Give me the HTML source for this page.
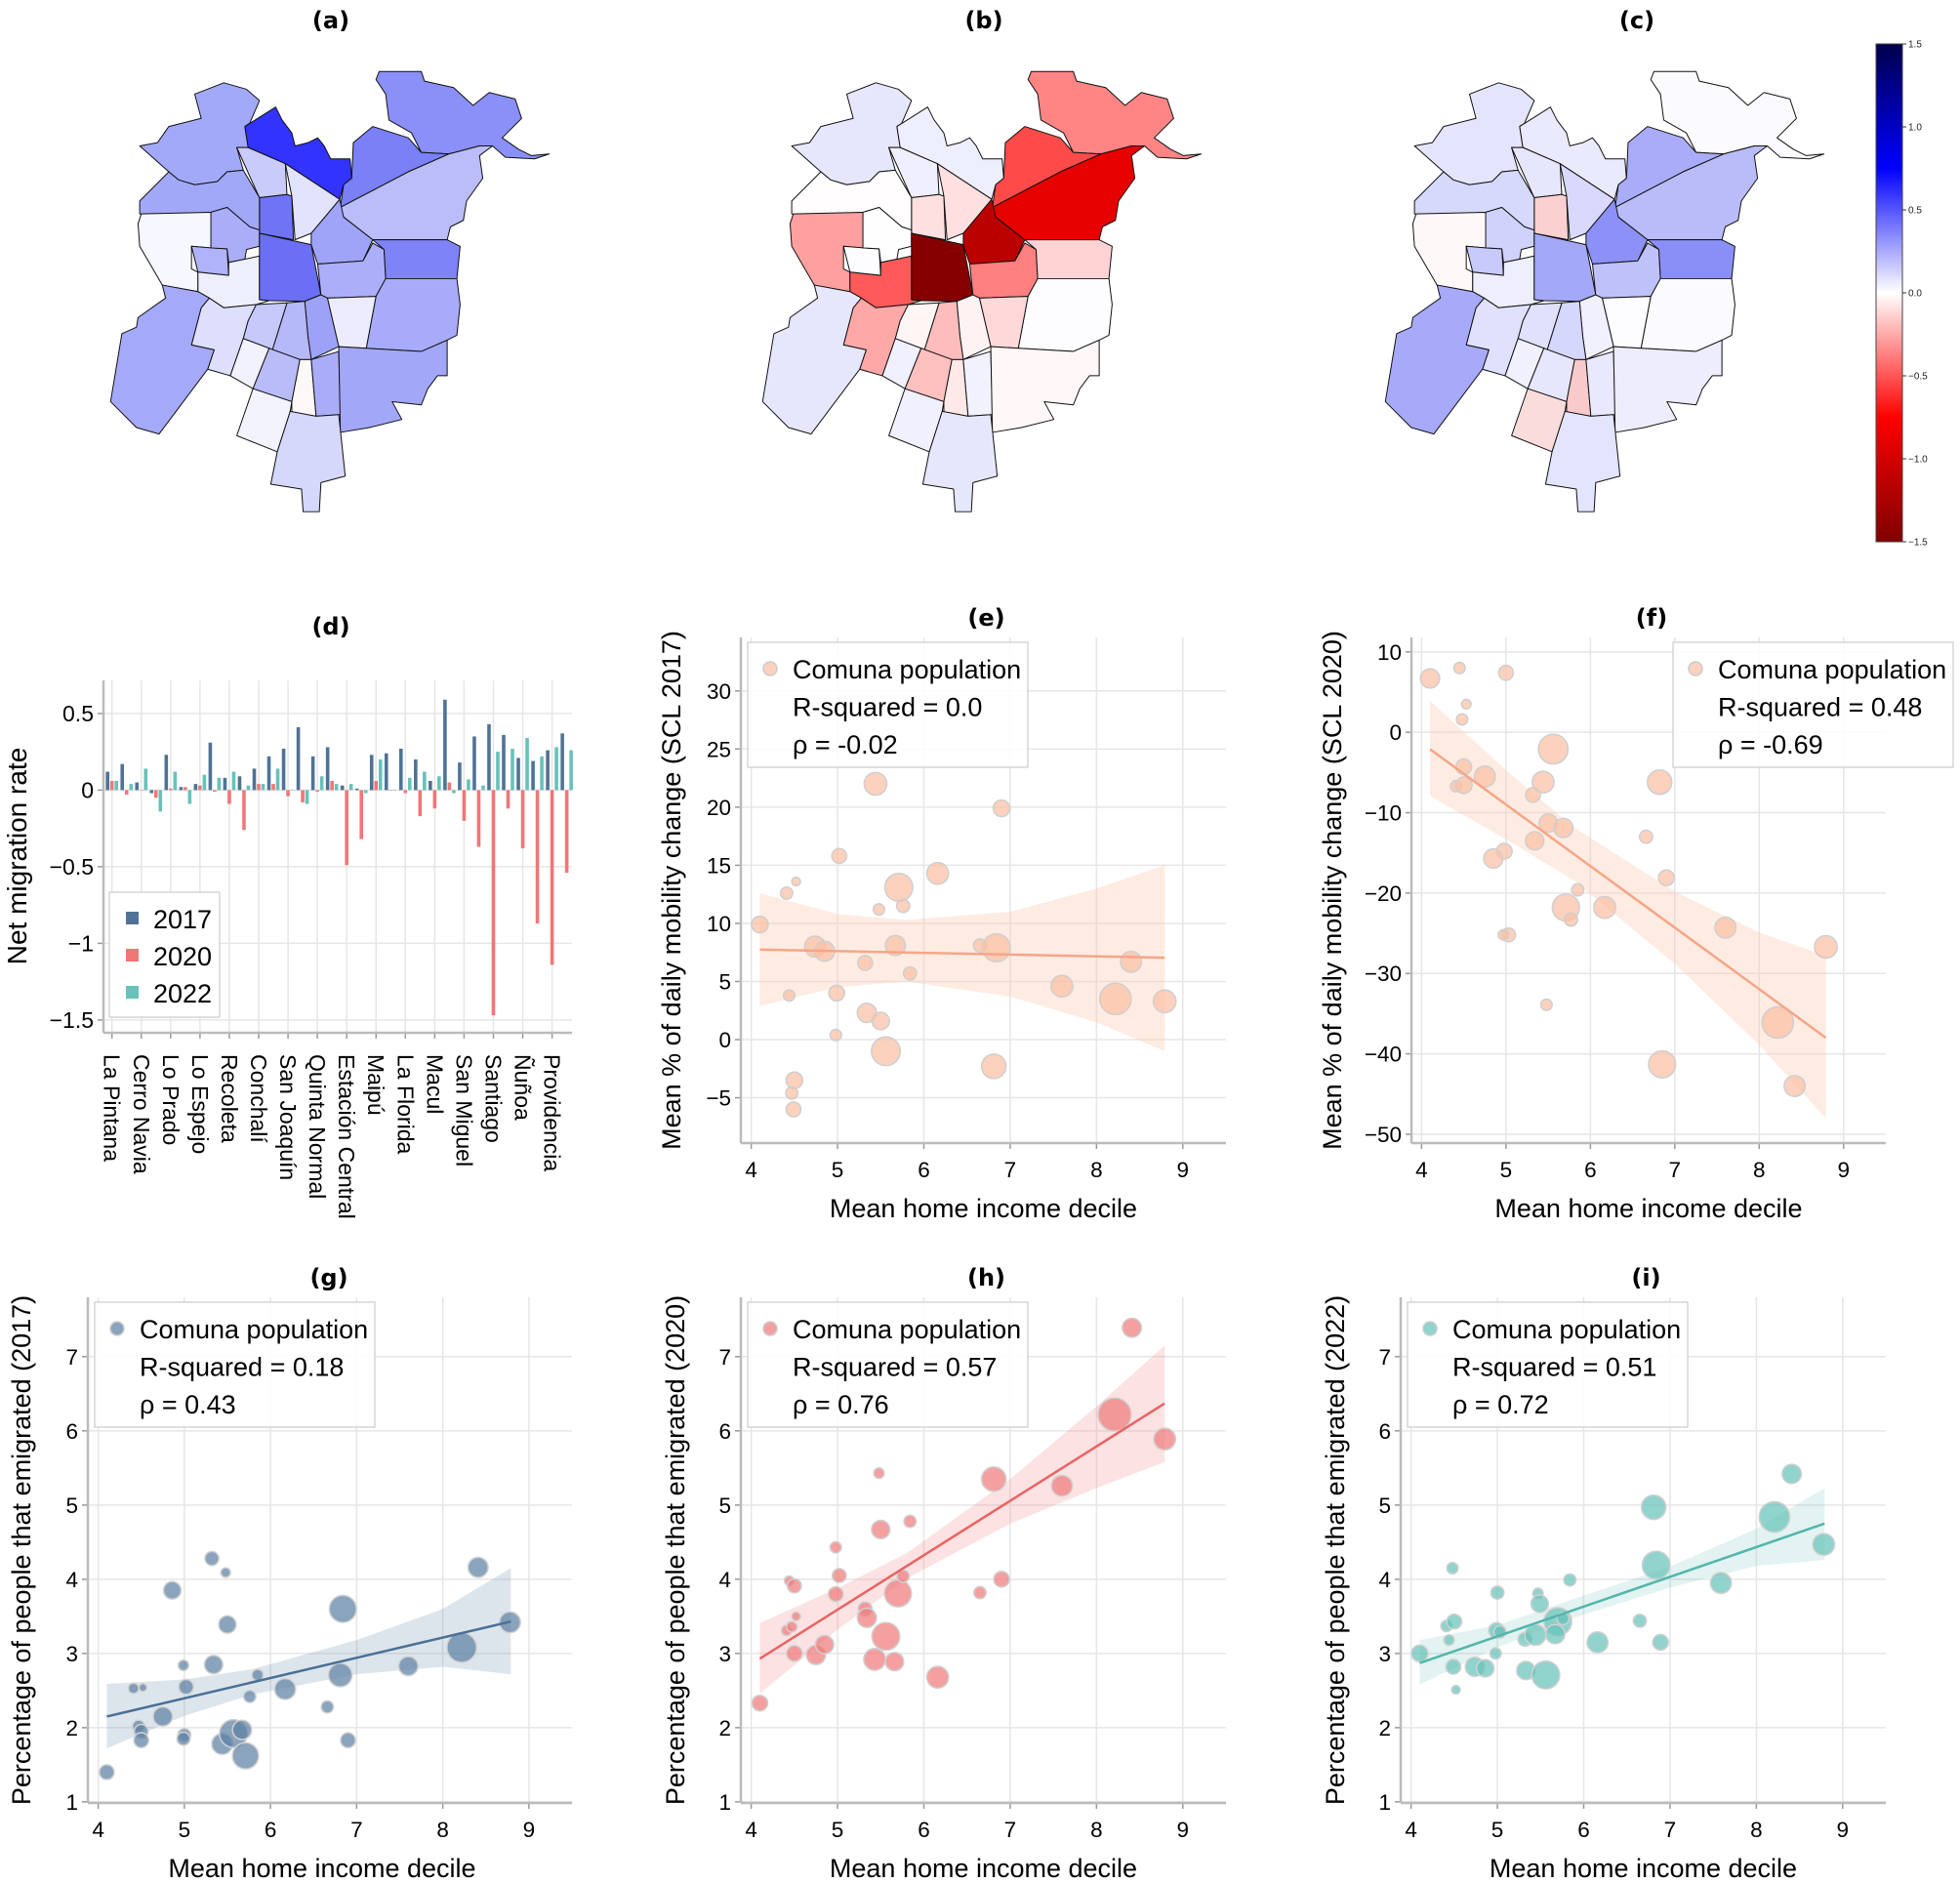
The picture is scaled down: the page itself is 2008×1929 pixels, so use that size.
<!DOCTYPE html>
<html><head><meta charset="utf-8">
<style>
html,body{margin:0;padding:0;background:#fff;}
svg{display:block;font-family:"Liberation Sans","DejaVu Sans",sans-serif;}
.ttl{font-family:"DejaVu Sans","Liberation Sans",sans-serif;font-weight:bold;}
</style></head>
<body>
<svg id="fig" width="2008" height="1929" viewBox="0 0 2008 1929" xmlns="http://www.w3.org/2000/svg">
<defs>
<linearGradient id="cbgrad" x1="0" y1="0" x2="0" y2="1">
<stop offset="0" stop-color="#00004d"/><stop offset="0.25" stop-color="#0000ff"/><stop offset="0.5" stop-color="#ffffff"/><stop offset="0.75" stop-color="#ff0000"/><stop offset="1" stop-color="#800000"/>
</linearGradient>
</defs>
<g id="maps"></g>
<g id="charts"></g>
</svg>
<script>
// ---------- bar chart (d) data ----------
const comunaLabels = ["La Pintana","Cerro Navia","Lo Prado","Lo Espejo","Recoleta","Conchalí","San Joaquín","Quinta Normal","Estación Central","Maipú","La Florida","Macul","San Miguel","Santiago","Ñuñoa","Providencia"];
const rate2017 = [0.12,0.17,0.05,-0.02,0.23,0.02,0.04,0.31,0.08,0.09,0.14,0.22,0.27,0.41,0.22,0.28,0.03,0.01,0.23,0.24,0.27,0.20,0.06,0.59,0.18,0.35,0.43,0.36,0.21,0.19,0.26,0.37];
const rate2020 = [0.06,-0.03,0.0,-0.05,0.01,0.02,0.03,-0.01,-0.09,-0.26,0.04,0.04,-0.04,-0.08,-0.01,0.06,-0.49,-0.32,0.06,0.0,-0.02,-0.17,-0.12,0.05,-0.20,-0.37,-1.47,-0.12,-0.38,-0.87,-1.14,-0.54];
const rate2022 = [0.06,0.04,0.14,-0.14,0.12,-0.09,0.10,0.08,0.12,0.03,0.04,0.14,0.0,-0.09,0.09,0.04,0.04,-0.02,0.20,0.0,0.08,0.12,0.09,-0.02,0.07,0.03,0.25,0.27,0.34,0.22,0.28,0.26];
const dTicks = [0.5,0,-0.5,-1,-1.5];
const dTickLabels = ["0.5","0","\u22120.5","\u22121","\u22121.5"];

// ---------- scatter data ----------
const xE=[4.1,4.41,4.52,4.44,4.5,4.47,4.49,4.74,4.85,5.02,4.99,4.98,5.32,5.44,5.34,5.48,5.5,5.56,5.71,5.76,5.67,5.84,6.16,6.65,6.84,6.9,6.81,7.6,8.22,8.4,8.79];
const yE=[9.9,12.6,13.6,3.8,-3.5,-4.6,-6.0,8.0,7.6,15.8,4.0,0.4,6.6,22.0,2.3,11.2,1.6,-1.0,13.1,11.5,8.1,5.7,14.3,8.1,7.9,19.9,-2.3,4.6,3.5,6.7,3.3];
const popE=[19,14,10,13,19,14,17,24,23,17,18,13,17,26,22,13,20,33,32,15,23,15,25,15,32,19,28,25,36,24,26];
const bandXE=[4.1,5,5.8,7,8,8.79], bandLoE=[2.9,4.5,5.0,3.7,1.5,-1.0], bandHiE=[12.6,10.8,10.3,11.0,13.0,15.0], fitE=[7.75,7.05];

const xF=[4.1,4.45,5.0,4.53,4.48,4.5,4.41,4.5,4.75,5.56,5.44,5.32,5.5,5.68,5.34,4.98,4.85,6.66,6.82,6.9,5.85,5.71,6.17,5.77,5.03,4.97,7.6,8.79,5.48,8.22,6.85,8.42];
const yF=[6.7,8.0,7.4,3.5,1.6,-4.3,-6.7,-6.6,-5.5,-2.1,-6.2,-7.8,-11.3,-11.9,-13.5,-14.8,-15.7,-13.0,-6.2,-18.1,-19.6,-21.8,-21.8,-23.3,-25.2,-25.2,-24.3,-26.7,-33.9,-36.1,-41.3,-44.0];
const popF=[22,13,17,11,13,18,13,19,24,34,25,17,21,22,21,18,22,15,28,18,14,31,25,15,16,12,24,26,13,36,31,24];
const bandXF=[4.1,5,5.8,7,8,8.79], bandLoF=[-7.9,-13.3,-18.4,-28.8,-38.9,-48.0], bandHiF=[3.9,-4.7,-11.8,-19.8,-24.9,-27.8], fitF=[-2.1,-38.0];

const xG=[4.1,4.41,4.52,4.47,4.5,4.5,4.75,4.86,4.99,5.02,5.0,4.99,5.32,5.48,5.5,5.34,5.44,5.57,5.67,5.71,5.85,5.76,6.17,6.66,6.81,6.84,6.9,7.6,8.22,8.41,8.78];
const yG=[1.40,2.53,2.54,2.02,1.95,1.83,2.15,3.85,2.84,2.55,1.9,1.85,4.28,4.09,3.39,2.85,1.78,1.92,1.97,1.62,2.71,2.42,2.52,2.28,2.71,3.60,1.83,2.83,3.08,4.16,3.42];
const popG=[17,12,9,14,16,17,22,20,12,17,15,15,16,11,20,21,24,32,22,30,13,14,24,14,27,31,17,22,34,23,24];
const bandXG=[4.1,5,5.8,7,8,8.79], bandLoG=[1.72,2.16,2.45,2.72,2.82,2.72], bandHiG=[2.59,2.65,2.79,3.18,3.60,4.15], fitG=[2.15,3.43];

const xH=[4.1,4.41,4.44,4.5,4.47,4.52,4.5,4.75,4.85,4.98,5.02,4.98,5.32,5.34,5.48,5.5,5.43,5.56,5.66,5.7,5.76,5.84,6.16,6.65,6.9,6.81,7.6,8.21,8.41,8.79];
const yH=[2.33,3.31,3.98,3.91,3.36,3.50,3.0,2.98,3.12,4.43,4.05,3.80,3.60,3.48,5.43,4.67,2.92,3.23,2.89,3.81,4.04,4.78,2.68,3.82,4.0,5.35,5.26,6.22,7.39,5.89];
const popH=[18,12,11,16,12,10,18,22,21,13,16,17,16,22,12,21,25,32,21,31,14,14,25,14,18,28,24,38,22,25];
const bandXH=[4.1,5,5.8,7,8,8.79], bandLoH=[2.46,3.32,4.01,4.75,5.23,5.58], bandHiH=[3.41,3.88,4.35,5.35,6.33,7.15], fitH=[2.93,6.37];

const xI=[4.1,4.41,4.5,4.48,4.44,4.49,4.52,4.74,4.86,5.0,4.99,5.03,4.98,5.32,5.33,5.47,5.49,5.44,5.56,5.7,5.67,5.76,5.84,6.16,6.65,6.81,6.84,6.89,7.59,8.21,8.41,8.78];
const yI=[3.0,3.37,3.43,4.15,3.18,2.82,2.51,2.82,2.80,3.82,3.31,3.29,3.0,3.19,2.77,3.81,3.67,3.25,2.71,3.43,3.26,3.47,3.99,3.15,3.44,4.97,4.19,3.15,3.95,4.84,5.42,4.47];
const popI=[19,13,17,13,12,17,10,22,20,15,18,14,13,16,21,12,20,24,32,32,22,14,14,24,15,28,32,18,24,35,22,25];
const bandXI=[4.1,5,5.8,7,8,8.79], bandLoI=[2.58,3.08,3.45,3.89,4.18,4.26], bandHiI=[3.18,3.38,3.70,4.17,4.68,5.23], fitI=[2.87,4.75];

const NS="http://www.w3.org/2000/svg";
const root=document.getElementById('charts');
function el(tag,attrs,parent,text){const e=document.createElementNS(NS,tag);for(const k in attrs)e.setAttribute(k,attrs[k]);if(text!==undefined)e.textContent=text;(parent||root).appendChild(e);return e;}

// ---------- maps ----------
const mapPolys=[
"130,300 185,290 220,240 320,215 300,140 390,105 460,125 500,160 470,230 455,240 465,305 430,305 450,375 400,380 370,410 300,420 250,405 220,380",
"455,240 550,180 570,220 600,260 610,300 650,290 680,275 700,300 720,340 780,340 785,400 760,420 748,465 580,355 465,305",
"870,70 1000,70 1010,100 1100,120 1160,175 1210,135 1290,155 1310,215 1250,275 1300,310 1340,330 1395,325 1350,340 1260,335 1220,300 1180,300 1085,325 1000,320 970,260 900,220 890,140 860,95",
"790,290 850,240 960,275 1000,320 1085,325 960,380 750,490 760,420 785,400",
"750,490 960,380 1085,325 1180,300 1220,300 1180,330 1190,400 1140,470 1130,530 1090,550 1080,590 850,590 760,520",
"430,305 465,305 580,355 585,450 500,460",
"580,355 748,465 660,570 610,590 600,455",
"500,460 585,450 600,455 605,590 500,570",
"220,380 250,405 300,420 370,410 400,380 450,375 500,460 500,560 470,550 400,490 350,505 250,510 170,515 130,510 130,470",
"135,510 350,505 360,520 350,615 290,610 290,680 310,690 310,750 200,730 130,610 125,540",
"290,610 350,615 400,618 405,700 310,690",
"350,505 400,490 470,550 500,560 500,610 460,620 455,650 405,660 400,618 350,615",
"310,690 405,700 405,660 455,650 500,640 500,775 530,778 490,790 390,800 345,770 310,750",
"500,570 660,605 690,760 640,780 530,778 500,775",
"660,570 748,465 760,520 850,590 820,655 680,665 660,605",
"680,665 820,655 850,600 885,620 890,710 860,765 710,770 690,760",
"850,590 1080,590 1120,610 1110,710 1050,710 890,710 885,620",
"890,710 1110,710 1120,790 1110,885 1080,900 1000,935 830,925 860,765",
"710,770 860,765 830,925 745,920",
"640,780 690,760 710,770 745,920 660,960 650,890",
"585,785 640,780 650,890 660,960 625,960 540,930",
"490,790 585,785 540,930 450,895 465,840",
"345,770 390,800 490,790 465,840 450,895 410,1010 340,990 360,930 290,915 320,800",
"200,730 310,750 345,770 320,800 290,915 360,930 340,990 190,1190 120,1170 40,1090 75,880 120,860 125,830 210,770",
"450,895 530,925 480,1050 410,1010",
"530,925 625,960 600,1090 480,1050",
"625,960 660,960 675,1135 600,1125 600,1090",
"660,960 745,935 750,1130 675,1135",
"745,920 830,925 1000,935 1080,900 1080,1010 1050,1010 1020,1050 1000,1100 910,1090 940,1145 840,1170 750,1185",
"480,1050 600,1090 595,1120 555,1245 430,1195",
"595,1120 675,1135 745,1130 765,1320 690,1340 685,1430 635,1430 630,1360 535,1345 555,1245"
];
const colA=["#a3a9f9","#3333ff","#8a90f8","#7a80f6","#babdf9","#c9cbfa","#e2e3fd","#6f73f6","#a2a8f8","#f7f7ff","#b0b3f9","#aaaef9","#eeeffe","#6a6ff5","#9fa4f8","#abaffa","#7e83f7","#a7abf9","#ececfe","#9da2f8","#b5b8f9","#c6c9fa","#dedffd","#a4a9f9","#f2f2fe","#b9bcf9","#fdf8f8","#a9adf9","#a2a7f8","#f3f3fe","#d5d7fb"];
const colB=["#e6e7fd","#eeeffe","#ff8585","#ff4a4a","#e60000","#efeffe","#ffdfdf","#ffe0e0","#fffdfd","#ffa0a0","#fdfdff","#fefefe","#ff5a5a","#870000","#bb0000","#ff8080","#ffd3d3","#fdfdff","#ffd9d9","#fff2f2","#ffbcbc","#fff5f5","#ffa8a8","#e6e7fd","#f0f0fe","#ffc0c0","#ffe8e8","#f2f2fe","#fff7f7","#f0f0fe","#e6e7fd"];
const colC=["#e4e5fd","#eaeafe","#fbfbff","#a8acf9","#babcf9","#e6e7fd","#d8d9fc","#fbd0d0","#d6d8fc","#fff8f8","#c8cafb","#d0d2fb","#eeeefe","#a4a8f9","#8c90f7","#bfc2fa","#8a8ff7","#fafaff","#fdfdff","#f0f0fe","#d5d7fc","#e0e1fd","#e0e1fd","#a6aaf9","#f0f0fe","#e6e7fd","#f8caca","#e8e9fe","#ededfe","#fbdcdc","#e3e4fd"];
const maps=document.getElementById('maps');
function drawMap(ox,cols,name){
  const g=el('g',{transform:`translate(${ox},50) scale(0.3316)`},maps);
  
  
  mapPolys.forEach((p,i)=>{
    const pg=el('polygon',{points:p,fill:cols[i],stroke:'#111','stroke-width':3,'stroke-linejoin':'round'},g);
    
    
  });
}
drawMap(100,colA,'map-a');
drawMap(768,colB,'map-b');
drawMap(1406,colC,'map-c');
[['(a)',339],['(b)',1008],['(c)',1677]].forEach(([t,x])=>{
  const tt=el('text',{x:x,y:29,'font-size':24,'class':'ttl','text-anchor':'middle'},maps,t);
  
  
});
// colorbar
const cb=el('rect',{x:1922,y:45,width:27,height:510,fill:'url(#cbgrad)',stroke:'#444','stroke-width':1},maps);


const cbVals=[1.5,1.0,0.5,0.0,-0.5,-1.0,-1.5];
const cbLabels=["1.5","1.0","0.5","0.0","\u22120.5","\u22121.0","\u22121.5"];
cbVals.forEach((v,i)=>{
  const y=45+(1.5-v)/3*510;
  el('line',{x1:1949,x2:1953,y1:y,y2:y,stroke:'#333','stroke-width':1},maps);
  const t=el('text',{x:1955,y:y+3.5,'font-size':10,fill:'#222'},maps,cbLabels[i]);
  
  
});

// ---------- bar chart (d) ----------
(function(){
  const L=106,R=586,T=697,B=1058;
  const xs=i=>114.7+i*15.03;
  const ys=v=>809.4-v*157;
  const g=el('g',{});
  
  
  dTicks.forEach((v,i)=>{
    el('line',{x1:L,x2:R,y1:ys(v),y2:ys(v),stroke:'#e6e6e6','stroke-width':1.5},g);
    el('line',{x1:L-6,x2:L,y1:ys(v),y2:ys(v),stroke:'#999','stroke-width':1.5},g);
    const t=el('text',{x:L-10,y:ys(v)+8,'font-size':23,'text-anchor':'end'},g,dTickLabels[i]);
    
    
  });
  comunaLabels.forEach((lab,k)=>{
    const x=xs(2*k);
    el('line',{x1:x,x2:x,y1:T,y2:B,stroke:'#e6e6e6','stroke-width':1.5},g);
    el('line',{x1:x,x2:x,y1:B,y2:B+6,stroke:'#999','stroke-width':1.5},g);
    const t=el('text',{transform:`translate(${x-8},${B+22}) rotate(90)`,'font-size':23},g,lab);
    
    
  });
  const series=[[rate2017,'#4f7396',-4.5],[rate2020,'#f07777',0],[rate2022,'#66c2ba',4.5]];
  series.forEach(([arr,c,off])=>{
    arr.forEach((v,i)=>{
      const y0=ys(0),y1=ys(v);
      const b=el('rect',{x:xs(i)+off-1.8,y:Math.min(y0,y1),width:3.6,height:Math.max(0.5,Math.abs(y1-y0)),fill:c},g);
      
      
    });
  });
  el('line',{x1:L,x2:L,y1:T,y2:B,stroke:'#bbb','stroke-width':2.5},g);
  el('line',{x1:L,x2:R,y1:B,y2:B,stroke:'#bbb','stroke-width':2.5},g);
  const lg=el('g',{},g);
  
  
  el('rect',{x:112,y:914,width:113,height:128,fill:'#fff',stroke:'#ccc','stroke-width':1.2},lg);
  [['2017','#4f7396',941],['2020','#f07777',979],['2022','#66c2ba',1017]].forEach(([t,c,y])=>{
    const s=el('rect',{x:129,y:y-7,width:13,height:13,fill:c},lg);
    
    
    const tx=el('text',{x:157,y:y+10,'font-size':27},lg,t);
    
    
  });
  const yl=el('text',{transform:'translate(27,877) rotate(-90)','font-size':28,'text-anchor':'middle'},g,'Net migration rate');
  
  
  const tt=el('text',{x:339,y:650,'font-size':24,'class':'ttl','text-anchor':'middle'},g,'(d)');
  
  
})();

// ---------- scatter panels ----------
function scatter(cfg){
  const {L,R,T,B,ymin,ymax,yticks,ylabels,xs_,ys_,pop,bx,blo,bhi,fit,fill,edge,line,band,title,ylab,ylabX,legX,legY,stats}=cfg;
  const xmin=3.88,xmax=9.5;
  const X=v=>L+(v-xmin)/(xmax-xmin)*(R-L);
  const Y=v=>B-(v-ymin)/(ymax-ymin)*(B-T);
  const g=el('g',{});
  
  
  yticks.forEach((v,i)=>{
    el('line',{x1:L,x2:R,y1:Y(v),y2:Y(v),stroke:'#e6e6e6','stroke-width':1.5},g);
    el('line',{x1:L-6,x2:L,y1:Y(v),y2:Y(v),stroke:'#999','stroke-width':1.5},g);
    const t=el('text',{x:L-10,y:Y(v)+8,'font-size':22.5,'text-anchor':'end'},g,ylabels[i]);
    
    
  });
  [4,5,6,7,8,9].forEach(v=>{
    el('line',{x1:X(v),x2:X(v),y1:T,y2:B,stroke:'#e6e6e6','stroke-width':1.5},g);
    el('line',{x1:X(v),x2:X(v),y1:B,y2:B+6,stroke:'#999','stroke-width':1.5},g);
    const t=el('text',{x:X(v),y:B+35,'font-size':22.5,'text-anchor':'middle'},g,String(v));
    
    
  });
  let pts=bx.map((v,i)=>X(v)+','+Y(bhi[i])).join(' ')+' '+bx.slice().reverse().map((v,i)=>X(v)+','+Y(blo[bx.length-1-i])).join(' ');
  const bd=el('polygon',{points:pts,fill:band},g);
  
  
  xs_.forEach((v,i)=>{
    const c=el('circle',{cx:X(v),cy:Y(ys_[i]),r:pop[i]*0.4464,fill:fill,'fill-opacity':0.72,stroke:edge,'stroke-width':1.5},g);
    
    
  });
  const fl=el('line',{x1:X(bx[0]),y1:Y(fit[0]),x2:X(bx[bx.length-1]),y2:Y(fit[1]),stroke:line,'stroke-width':2.5},g);
  
  
  el('line',{x1:L,x2:L,y1:T,y2:B,stroke:'#bbb','stroke-width':2.5},g);
  el('line',{x1:L,x2:R,y1:B,y2:B,stroke:'#bbb','stroke-width':2.5},g);
  const lg=el('g',{},g);
  
  
  el('rect',{x:legX,y:legY,width:287,height:128,fill:'#fff','fill-opacity':0.85,stroke:'#ccc','stroke-width':1.2},lg);
  const m=el('circle',{cx:legX+23,cy:legY+27,r:7,fill:fill,'fill-opacity':0.72,stroke:'#ccc','stroke-width':1.5},lg);
  
  
  ['Comuna population',stats[0],stats[1]].forEach((s,i)=>{
    const t=el('text',{x:legX+46,y:legY+37+i*38.5,'font-size':27,'textLength':undefined},lg,s);
    t.removeAttribute('textLength');
    
    
  });
  const yl=el('text',{transform:`translate(${ylabX},${(T+B)/2}) rotate(-90)`,'font-size':27,'text-anchor':'middle'},g,ylab);
  
  
  const xl=el('text',{x:(L+R)/2+(L<200?-8:0),y:B+76,'font-size':27,'text-anchor':'middle'},g,'Mean home income decile');
  
  
  const tt=el('text',{x:(L+R)/2+(L<200?-1:3),y:T-12,'font-size':24,'class':'ttl','text-anchor':'middle'},g,title);
  
  
}
const tE=[30,25,20,15,10,5,0,-5], tF=[10,0,-10,-20,-30,-40,-50], tG=[1,2,3,4,5,6,7];
const lab=a=>a.map(v=>v<0?'\u2212'+Math.abs(v):String(v));
const peach='#fbbfa3';
scatter({L:759,R:1256,T:653,B:1171,ymin:-8.9,ymax:34.6,yticks:tE,ylabels:lab(tE),xs_:xE,ys_:yE,pop:popE,bx:bandXE,blo:bandLoE,bhi:bandHiE,fit:fitE,fill:peach,edge:'#cfcfcf',line:'#f7a587',band:'rgba(252,200,175,0.35)',title:'(e)',ylab:'Mean % of daily mobility change (SCL 2017)',ylabX:697,legX:766,legY:658,stats:['R-squared = 0.0','\u03c1 = -0.02']});
scatter({L:1446,R:1932,T:653,B:1171,ymin:-51.1,ymax:11.8,yticks:tF,ylabels:lab(tF),xs_:xF,ys_:yF,pop:popF,bx:bandXF,blo:bandLoF,bhi:bandHiF,fit:fitF,fill:peach,edge:'#cfcfcf',line:'#f7a587',band:'rgba(252,200,175,0.35)',title:'(f)',ylab:'Mean % of daily mobility change (SCL 2020)',ylabX:1374,legX:1714,legY:658,stats:['R-squared = 0.48','\u03c1 = -0.69']});
scatter({L:90,R:586,T:1329,B:1847,ymin:0.985,ymax:7.8,yticks:tG,ylabels:lab(tG),xs_:xG,ys_:yG,pop:popG,bx:bandXG,blo:bandLoG,bhi:bandHiG,fit:fitG,fill:'#5d81a4',edge:'#d0d0d0',line:'#4a7095',band:'rgba(100,135,170,0.22)',title:'(g)',ylab:'Percentage of people that emigrated (2017)',ylabX:31,legX:97,legY:1334,stats:['R-squared = 0.18','\u03c1 = 0.43']});
scatter({L:759,R:1256,T:1329,B:1847,ymin:0.985,ymax:7.8,yticks:tG,ylabels:lab(tG),xs_:xH,ys_:yH,pop:popH,bx:bandXH,blo:bandLoH,bhi:bandHiH,fit:fitH,fill:'#f07b7b',edge:'#d0d0d0',line:'#e86464',band:'rgba(245,140,140,0.25)',title:'(h)',ylab:'Percentage of people that emigrated (2020)',ylabX:701,legX:766,legY:1334,stats:['R-squared = 0.57','\u03c1 = 0.76']});
scatter({L:1435,R:1932,T:1329,B:1847,ymin:0.985,ymax:7.8,yticks:tG,ylabels:lab(tG),xs_:xI,ys_:yI,pop:popI,bx:bandXI,blo:bandLoI,bhi:bandHiI,fit:fitI,fill:'#66c2ba',edge:'#d0d0d0',line:'#52b6ac',band:'rgba(110,195,185,0.2)',title:'(i)',ylab:'Percentage of people that emigrated (2022)',ylabX:1377,legX:1442,legY:1334,stats:['R-squared = 0.51','\u03c1 = 0.72']});
</script>
</body></html>
